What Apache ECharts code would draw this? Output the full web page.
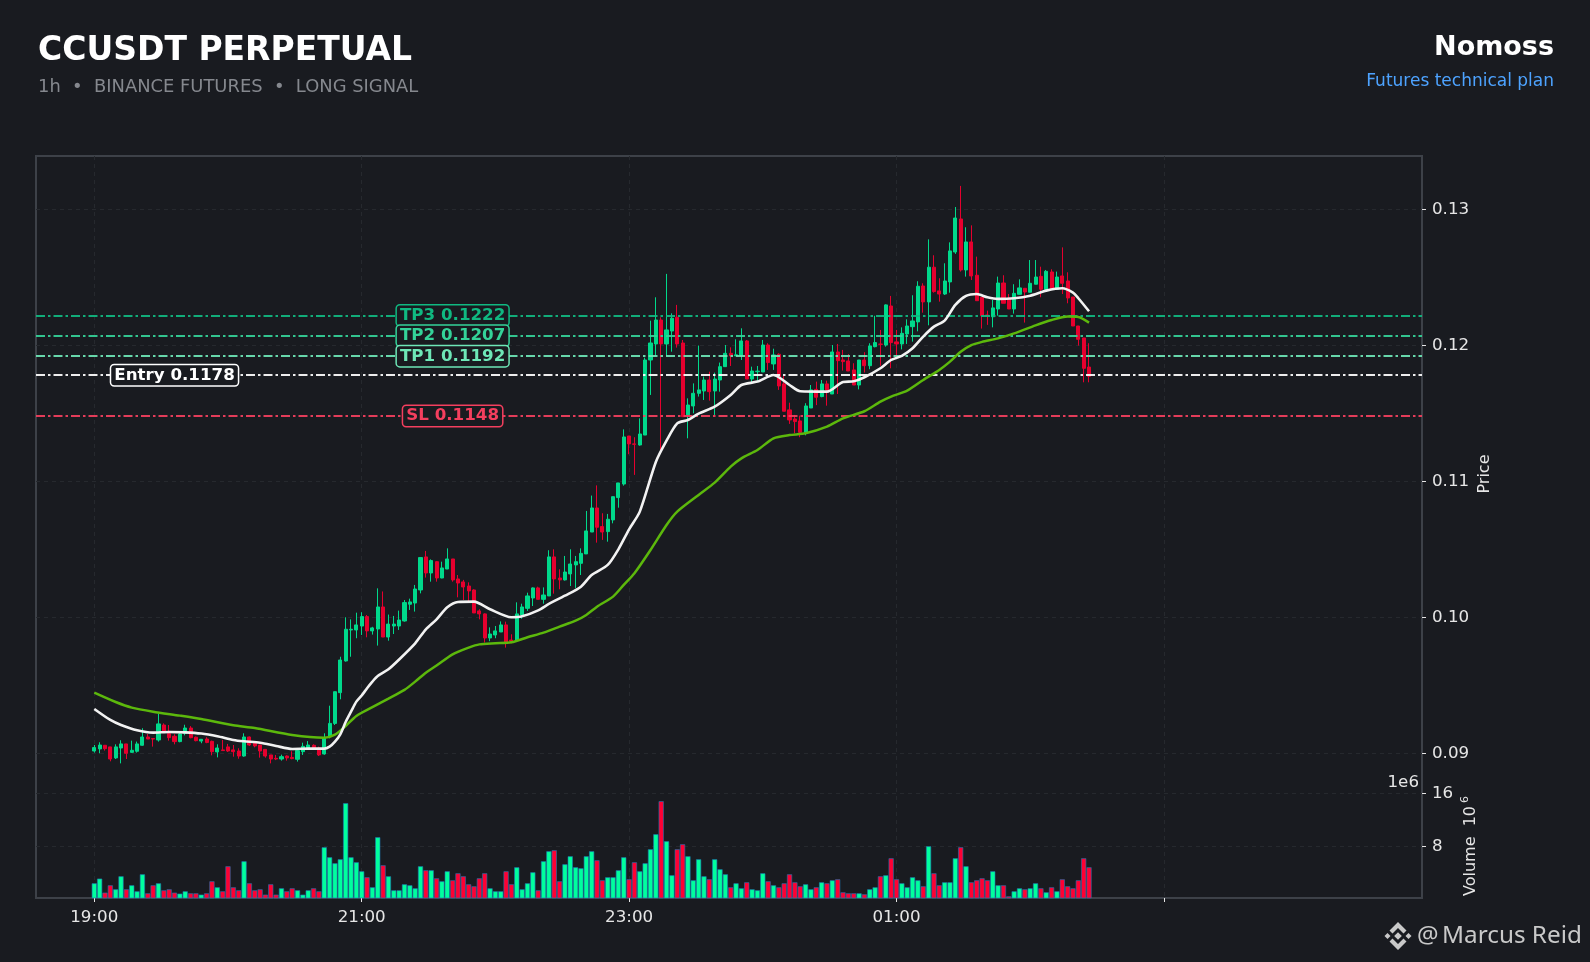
<!DOCTYPE html>
<html><head><meta charset="utf-8">
<style>html,body{margin:0;padding:0;background:#191b20}#c{width:1590px;height:962px}</style>
<script src="https://cdn.jsdelivr.net/npm/echarts@6/dist/echarts.min.js"></script>
</head><body><div id="c"></div>
<script>
const xTickPositions=[0,50,100,150,200];
const xTickLabels=['19:00','21:00','23:00','01:00',''];
const priceTicks=[0.09,0.10,0.11,0.12,0.13];
const volumeTicks=[8,16];
// [open, close, low, high]
const candles=[
[.09017,.09042,.09005,.09061],[.09032,.09061,.09000,.09081],[.09059,.09034,.09020,.09059],[.09047,.08958,.08941,.09047],
[.08966,.09047,.08958,.09066],[.09039,.09069,.08926,.09096],[.09069,.09000,.08958,.09069],[.09007,.09022,.09005,.09093],
[.09015,.09069,.09005,.09086],[.09059,.09120,.09056,.09184],[.09120,.09105,.09105,.09142],[.09108,.09105,.09049,.09108],
[.09098,.09216,.09086,.09289],[.09208,.09164,.09152,.09220],[.09145,.09115,.09093,.09208],[.09125,.09086,.09066,.09140],
[.09086,.09142,.09081,.09152],[.09147,.09186,.09132,.09210],[.09186,.09115,.09110,.09200],[.09118,.09093,.09088,.09123],
[.09090,.09103,.09074,.09105],[.09105,.09080,.09074,.09118],[.09088,.09012,.08985,.09093],[.09010,.09039,.08970,.09066],
[.09025,.09020,.09020,.09098],[.09047,.09017,.09010,.09069],[.09025,.09012,.08975,.09061],[.09017,.08980,.08960,.09037],
[.08980,.09120,.08975,.09147],[.09120,.09061,.09054,.09123],[.09074,.09054,.09044,.09086],[.09061,.09017,.08968,.09061],
[.09029,.08980,.08968,.09029],[.08988,.08958,.08926,.08988],[.08963,.08958,.08950,.08988],[.08958,.08975,.08946,.08990],
[.08980,.08966,.08946,.08985],[.08970,.08961,.08956,.09015],[.08956,.09020,.08939,.09030],[.09012,.09051,.08988,.09078],
[.09039,.09061,.09025,.09090],[.09059,.09039,.09029,.09066],[.09039,.08988,.08980,.09049],[.08995,.09110,.08990,.09147],
[.09123,.09220,.09110,.09350],[.09220,.09453,.09208,.09453],[.09446,.09686,.09397,.09710],[.09679,.09912,.09674,.10000],
[.09907,.09912,.09710,.09985],[.09907,.09944,.09846,.10034],[.09936,.10005,.09870,.10037],[.10005,.09900,.09853,.10017],
[.09900,.09922,.09873,.09930],[.09914,.10076,.09792,.10213],[.10076,.09855,.09855,.10190],[.09855,.09950,.09828,.10020],
[.09936,.09950,.09877,.10010],[.09936,.09980,.09907,.10049],[.09973,.10108,.09968,.10127],[.10096,.10113,.10054,.10137],
[.10105,.10208,.10042,.10238],[.10201,.10439,.10176,.10439],[.10444,.10326,.10292,.10488],[.10326,.10417,.10262,.10426],
[.10409,.10289,.10262,.10414],[.10289,.10363,.10287,.10409],[.10355,.10429,.10355,.10507],[.10429,.10275,.10262,.10429],
[.10282,.10252,.10147,.10311],[.10260,.10223,.10127,.10275],[.10230,.10194,.10108,.10257],[.10201,.10032,.10032,.10206],
[.10047,.10025,.09985,.10059],[.10025,.09848,.09814,.10029],[.09848,.09877,.09824,.09926],[.09870,.09900,.09846,.09936],
[.09892,.09944,.09892,.09970],[.09944,.09809,.09777,.09968],[.09833,.09824,.09809,.09875],[.09833,.10025,.09833,.10110],
[.10017,.10076,.09990,.10100],[.10066,.10157,.10047,.10181],[.10142,.10216,.10083,.10220],[.10216,.10132,.10132,.10225],
[.10132,.10164,.10100,.10220],[.10157,.10444,.10157,.10493],[.10444,.10282,.10174,.10500],[.10289,.10275,.10206,.10353],
[.10275,.10333,.10270,.10451],[.10319,.10392,.10230,.10500],[.10385,.10409,.10216,.10451],[.10397,.10470,.10311,.10507],
[.10466,.10635,.10466,.10782],[.10627,.10804,.10627,.10895],[.10804,.10662,.10549,.10970],[.10667,.10627,.10569,.10765],
[.10630,.10721,.10556,.10760],[.10716,.10887,.10691,.10887],[.10880,.10988,.10806,.10988],[.10980,.11326,.10968,.11382],
[.11333,.11275,.11199,.11333],[.11275,.11272,.11047,.11324],[.11267,.11348,.11262,.11463],[.11340,.11892,.11340,.11909],
[.11892,.12017,.11635,.12181],[.12010,.12186,.11922,.12353],[.12186,.12010,.11218,.12206],[.12010,.12113,.11922,.12525],
[.12105,.12199,.11953,.12235],[.12206,.12010,.11983,.12297],[.12017,.11475,.11475,.12039],[.11488,.11561,.11316,.11610],
[.11554,.11647,.11500,.11720],[.11647,.11672,.11623,.11998],[.11664,.11745,.11598,.11770],[.11745,.11659,.11593,.11806],
[.11664,.11752,.11488,.11799],[.11745,.11843,.11659,.11873],[.11843,.11941,.11843,.12002],[.11941,.11922,.11848,.11985],
[.11922,.11930,.11922,.12044],[.11926,.12032,.11892,.12125],[.12032,.11752,.11752,.12039],[.11752,.11811,.11728,.11843],
[.11806,.11810,.11733,.11848],[.11804,.12002,.11804,.12039],[.12002,.11873,.11819,.12015],[.11863,.11929,.11819,.11975],
[.11934,.11701,.11672,.11941],[.11716,.11515,.11515,.11775],[.11525,.11451,.11422,.11578],[.11458,.11439,.11353,.11488],
[.11444,.11360,.11324,.11483],[.11358,.11554,.11338,.11574],[.11539,.11672,.11539,.11708],[.11676,.11618,.11560,.11733],
[.11623,.11716,.11618,.11745],[.11716,.11672,.11556,.11740],[.11642,.11951,.11642,.12002],[.11951,.11887,.11642,.12010],
[.11892,.11880,.11814,.11966],[.11885,.11811,.11811,.11936],[.11819,.11708,.11708,.11868],[.11708,.11892,.11676,.11892],
[.11892,.11850,.11800,.11949],[.11850,.11995,.11824,.12015],[.11990,.12020,.11985,.12217],[.12009,.12007,.11850,.12113],
[.12002,.12297,.11990,.12301],[.12289,.12020,.11831,.12363],[.12025,.12010,.11917,.12113],[.12010,.12088,.11970,.12132],
[.12083,.12142,.12010,.12191],[.12137,.12179,.12027,.12368],[.12172,.12434,.12103,.12471],[.12436,.12319,.12240,.12456],
[.12319,.12574,.12147,.12779],[.12574,.12395,.12387,.12662],[.12400,.12377,.12321,.12493],[.12377,.12473,.12370,.12603],
[.12466,.12694,.12387,.12757],[.12686,.12936,.12672,.13017],[.12929,.12554,.12542,.13172],[.12554,.12760,.12505,.12868],
[.12760,.12510,.12480,.12882],[.12515,.12328,.12328,.12652],[.12353,.12218,.12123,.12353],[.12223,.12218,.12150,.12255],
[.12210,.12275,.12132,.12333],[.12267,.12458,.12218,.12505],[.12458,.12309,.12309,.12515],[.12346,.12267,.12267,.12377],
[.12267,.12382,.12233,.12449],[.12375,.12422,.12375,.12485],[.12419,.12392,.12167,.12419],[.12390,.12456,.12390,.12627],
[.12449,.12502,.12449,.12627],[.12507,.12412,.12353,.12578],[.12412,.12544,.12412,.12554],[.12539,.12412,.12407,.12559],
[.12412,.12502,.12407,.12542],[.12510,.12456,.12377,.12720],[.12473,.12348,.12309,.12537],[.12355,.12142,.12142,.12355],
[.12142,.12044,.11998,.12142],[.12054,.11831,.11728,.12054],[.11840,.11772,.11728,.12015]];
const volumes=[2.5,3.2,1.1,2.2,1.6,3.55,1.6,2.2,1.3,3.85,1.0,2.2,2.5,1.45,1.6,1.1,.95,1.3,1.0,1.0,.8,1.0,2.8,1.9,1.3,5.05,1.9,1.45,5.8,2.5,1.45,1.6,.8,2.35,.8,1.75,1.3,1.75,1.45,.8,1.45,1.75,1.3,7.9,6.4,5.5,6.1,14.5,6.4,5.65,4.3,3.4,1.9,9.4,5.2,3.55,1.45,1.45,2.35,2.2,1.75,5.05,4.45,4.45,3.25,2.8,4.3,2.95,4.0,3.55,2.35,2.05,3.25,4.0,1.75,1.3,1.3,4.3,2.35,4.9,1.6,2.5,4.15,1.45,5.8,7.3,7.45,2.8,5.35,6.55,4.9,4.75,6.55,7.3,5.95,2.95,3.4,3.4,4.45,6.4,3.1,5.65,4.3,5.5,7.6,9.85,14.8,8.8,3.7,7.6,8.35,6.55,2.95,6.1,3.55,3.1,6.1,4.6,3.85,1.9,2.5,1.75,2.65,1.6,1.45,4.0,2.8,2.2,1.9,2.5,3.85,2.65,2.05,2.35,1.6,1.9,2.65,2.5,2.95,3.1,1.15,1.0,1.0,1.0,.85,1.6,1.9,3.55,3.7,6.25,3.1,2.5,1.9,3.4,2.95,2.05,8.05,4.0,2.2,2.65,2.65,6.25,7.9,5.05,2.65,2.95,3.25,2.95,4.3,2.2,2.2,.55,1.3,1.75,1.6,1.75,2.5,1.75,1.15,1.9,1.3,3.1,2.05,1.75,2.95,6.25,4.9];
// [bar index, value]
const emaFast=[[0,.09326],[3,.09245],[5,.09208],[8,.09169],[11,.09152],[14,.09157],[17,.09154],[20,.09145],[23,.09125],[26,.09098],[28,.09088],[31,.09078],[34,.09054],[37,.09032],[40,.09034],[43,.09034],[44,.09049],[45,.09086],[46,.0914],[47,.0923],[48,.09306],[49,.0938],[50,.09425],[51,.09478],[52,.09527],[53,.09569],[55,.09618],[57,.09690],[60,.09809],[62,.09912],[64,.09985],[66,.10074],[68,.10113],[71,.10115],[74,.10059],[78,.10000],[80,.10007],[83,.10051],[85,.10098],[88,.10159],[91,.10225],[93,.10311],[96,.10385],[98,.10500],[100,.10647],[102,.10777],[105,.11142],[107,.11299],[109,.11426],[111,.11451],[113,.11498],[116,.11549],[119,.11635],[121,.11708],[124,.11733],[127,.11782],[130,.11708],[132,.11662],[137,.11659],[140,.1173],[142,.11735],[144,.11765],[147,.11831],[149,.11892],[151,.11922],[153,.11978],[155,.12064],[157,.12137],[159,.12181],[161,.12297],[163,.12363],[165,.12377],[167,.12353],[169,.12341],[172,.12346],[175,.12365],[178,.12402],[181,.12419],[183,.12387],[184,.12346],[186,.1225]];
const emaSlow=[[0,.09446],[4,.09377],[7,.09336],[11,.09306],[16,.09277],[20,.09252],[26,.09206],[30,.09186],[37,.09135],[43,.09115],[45,.09137],[47,.09201],[49,.09275],[52,.09340],[55,.09402],[58,.09466],[60,.09527],[62,.09593],[64,.09645],[67,.09728],[70,.09777],[72,.09801],[75,.09809],[78,.09816],[81,.09853],[84,.09887],[87,.09931],[90,.09975],[92,.10017],[94,.10078],[97,.10152],[99,.10238],[101,.10324],[104,.10495],[107,.10679],[109,.10777],[113,.1090],[116,.1099],[119,.11108],[121,.11169],[124,.1123],[127,.11316],[130,.1134],[133,.11353],[137,.11402],[140,.11463],[144,.11515],[147,.11586],[149,.11623],[152,.11667],[155,.11745],[158,.11819],[160,.1188],[162,.11953],[164,.12002],[166,.12025],[169,.12051],[172,.12088],[176,.12147],[179,.12186],[182,.12211],[184,.12208],[186,.12167]];
const levelNames=['TP3','TP2','TP1','Entry','SL'];
const levelValues=[0.1222,0.1207,0.1192,0.1178,0.1148];
const levelColors=['#10b981','#34d399','#6ee7b7','#ffffff','#f43f5e'];
const levelLabelBars=[67,67,67,15,67];

const BG='#191b20',UP='#00d98b',DOWN='#e6002e',VUP='#00ff9d',VDOWN='#ff0033',F='"DejaVu Sans"';
const lineDash=[9,3,2.5,3];
const ch=echarts.init(document.getElementById('c'),null,{renderer:'canvas'});
const candleData=candles.map((c,i)=>[i,c[0],c[1],c[2],c[3]]);
const volData=volumes.map((v,i)=>({value:[i,v],itemStyle:{color:candles[i][1]>=candles[i][0]?VUP:VDOWN}}));
const axisLabelStyle={color:'#e6e6e6',fontSize:16.7,fontFamily:F};
const gridLine={show:true,lineStyle:{color:'#26292e',type:[4,4],width:1}};
const iconC='#c9c9c9';
ch.setOption({
 animation:false,backgroundColor:BG,
 grid:{left:36,right:168,top:156,bottom:64,show:true,borderColor:'#3d4148',borderWidth:2,backgroundColor:'transparent'},
 xAxis:{type:'value',min:-10.9,max:248.26,axisLine:{show:false,onZero:false},
  axisTick:{show:true,length:4,customValues:xTickPositions,lineStyle:{color:'#e6e6e6'}},
  axisLabel:{...axisLabelStyle,margin:11,customValues:xTickPositions,formatter:v=>xTickLabels[xTickPositions.indexOf(v)]??''},
  splitLine:gridLine},
 yAxis:[
  {type:'value',position:'right',min:0.07936,max:0.133919,axisLine:{show:false,onZero:false},
   axisTick:{show:true,length:4,customValues:priceTicks,lineStyle:{color:'#e6e6e6'}},
   axisLabel:{...axisLabelStyle,margin:10,padding:[5,0,0,0],customValues:priceTicks,formatter:v=>v.toFixed(2)},splitLine:gridLine},
  {type:'value',position:'right',min:0.3,max:111.46,axisLine:{show:false,onZero:false},
   axisTick:{show:true,length:4,customValues:volumeTicks,lineStyle:{color:'#e6e6e6'}},
   axisLabel:{...axisLabelStyle,margin:10,padding:[5,0,0,0],customValues:volumeTicks,formatter:v=>String(v)},splitLine:gridLine}
 ],
 series:[
  {name:'Volume',type:'bar',yAxisIndex:1,data:volData,barWidth:5.1,z:2,itemStyle:{borderColor:'#1f77b4',borderWidth:0.6}},
  {name:'Price',type:'candlestick',yAxisIndex:0,data:candleData,encode:{x:0,y:[1,2,3,4]},barWidth:3.6,z:3,
   itemStyle:{color:UP,color0:DOWN,borderColor:UP,borderColor0:DOWN,borderWidth:1}},
  {name:'Levels',type:'line',yAxisIndex:0,data:[],z:4,
   markLine:{silent:true,symbol:'none',animation:false,precision:4,label:{show:false},
    data:levelValues.map((v,i)=>({yAxis:v,lineStyle:{color:levelColors[i],type:lineDash,width:1.8,opacity:.92}}))}},
  {name:'EMA slow',type:'line',yAxisIndex:0,data:emaSlow,showSymbol:false,smooth:0.25,z:5,lineStyle:{color:'#5cb80c',width:2.5}},
  {name:'EMA fast',type:'line',yAxisIndex:0,data:emaFast,showSymbol:false,smooth:0.25,z:6,lineStyle:{color:'#f2f2f2',width:2.6}},
  ...levelNames.map((n,i)=>({name:n+' label',type:'scatter',yAxisIndex:0,symbolSize:0,z:7+i,itemStyle:{opacity:1},
   data:[[levelLabelBars[i],levelValues[i]]],
   label:{show:true,opacity:1,position:'inside',formatter:n+' '+levelValues[i].toFixed(4),color:levelColors[i],fontSize:16.7,fontWeight:'bold',fontFamily:F,
    backgroundColor:BG,borderColor:levelColors[i],borderWidth:1.5,borderRadius:3,padding:[2,3,1,3]}}))
 ],
 graphic:[
  {type:'text',x:38,y:51,style:{text:'CCUSDT PERPETUAL',fill:'#ffffff',font:'bold 33px "DejaVu Sans"',textVerticalAlign:'middle'}},
  {type:'text',x:38,y:87,style:{text:'1h  •  BINANCE FUTURES  •  LONG SIGNAL',fill:'#85888e',font:'17.9px "DejaVu Sans"',textVerticalAlign:'middle'}},
  {type:'text',x:1554,y:48,style:{text:'Nomoss',fill:'#ffffff',font:'bold 27px "DejaVu Sans"',textAlign:'right',textVerticalAlign:'middle'}},
  {type:'text',x:1554,y:82,style:{text:'Futures technical plan',fill:'#4da3ff',font:'17px "DejaVu Sans"',textAlign:'right',textVerticalAlign:'middle'}},
  {type:'text',x:1419,y:783,style:{text:'1e6',fill:'#e6e6e6',font:'16.7px "DejaVu Sans"',textAlign:'right',textVerticalAlign:'middle'}},
  {type:'text',x:1485,y:474,rotation:Math.PI/2,style:{text:'Price',fill:'#e6e6e6',font:'16px "DejaVu Sans"',textAlign:'center',textVerticalAlign:'middle'}},
  {type:'text',x:1471,y:896,rotation:Math.PI/2,style:{text:'Volume  10',fill:'#e6e6e6',font:'16px "DejaVu Sans"',textAlign:'left',textVerticalAlign:'middle'}},
  {type:'text',x:1465,y:803,rotation:Math.PI/2,style:{text:'6',fill:'#e6e6e6',font:'11px "DejaVu Sans"',textAlign:'left',textVerticalAlign:'middle'}},
  {type:'group',x:1398,y:936,children:[
    {type:'polygon',shape:{points:[[0,-3.8],[3.8,0],[0,3.8],[-3.8,0]]},style:{fill:iconC}},
    {type:'polygon',shape:{points:[[-10.5,-3],[-7.5,0],[-10.5,3],[-13.5,0]]},style:{fill:iconC}},
    {type:'polygon',shape:{points:[[10.5,-3],[13.5,0],[10.5,3],[7.5,0]]},style:{fill:iconC}},
    {type:'polygon',shape:{points:[[0,-14],[8.5,-5.5],[5.5,-2.5],[0,-8],[-5.5,-2.5],[-8.5,-5.5]]},style:{fill:iconC}},
    {type:'polygon',shape:{points:[[0,14],[8.5,5.5],[5.5,2.5],[0,8],[-5.5,2.5],[-8.5,5.5]]},style:{fill:iconC}}
  ]},
  {type:'text',x:1417,y:936,style:{text:'@',fill:'#c9c9c9',font:'24px "Noto Sans"',textVerticalAlign:'middle'}},
  {type:'text',x:1442,y:936,style:{text:'Marcus Reid',fill:'#c9c9c9',font:'24.3px "Noto Sans"',textVerticalAlign:'middle'}}
 ]
});
</script></body></html>
